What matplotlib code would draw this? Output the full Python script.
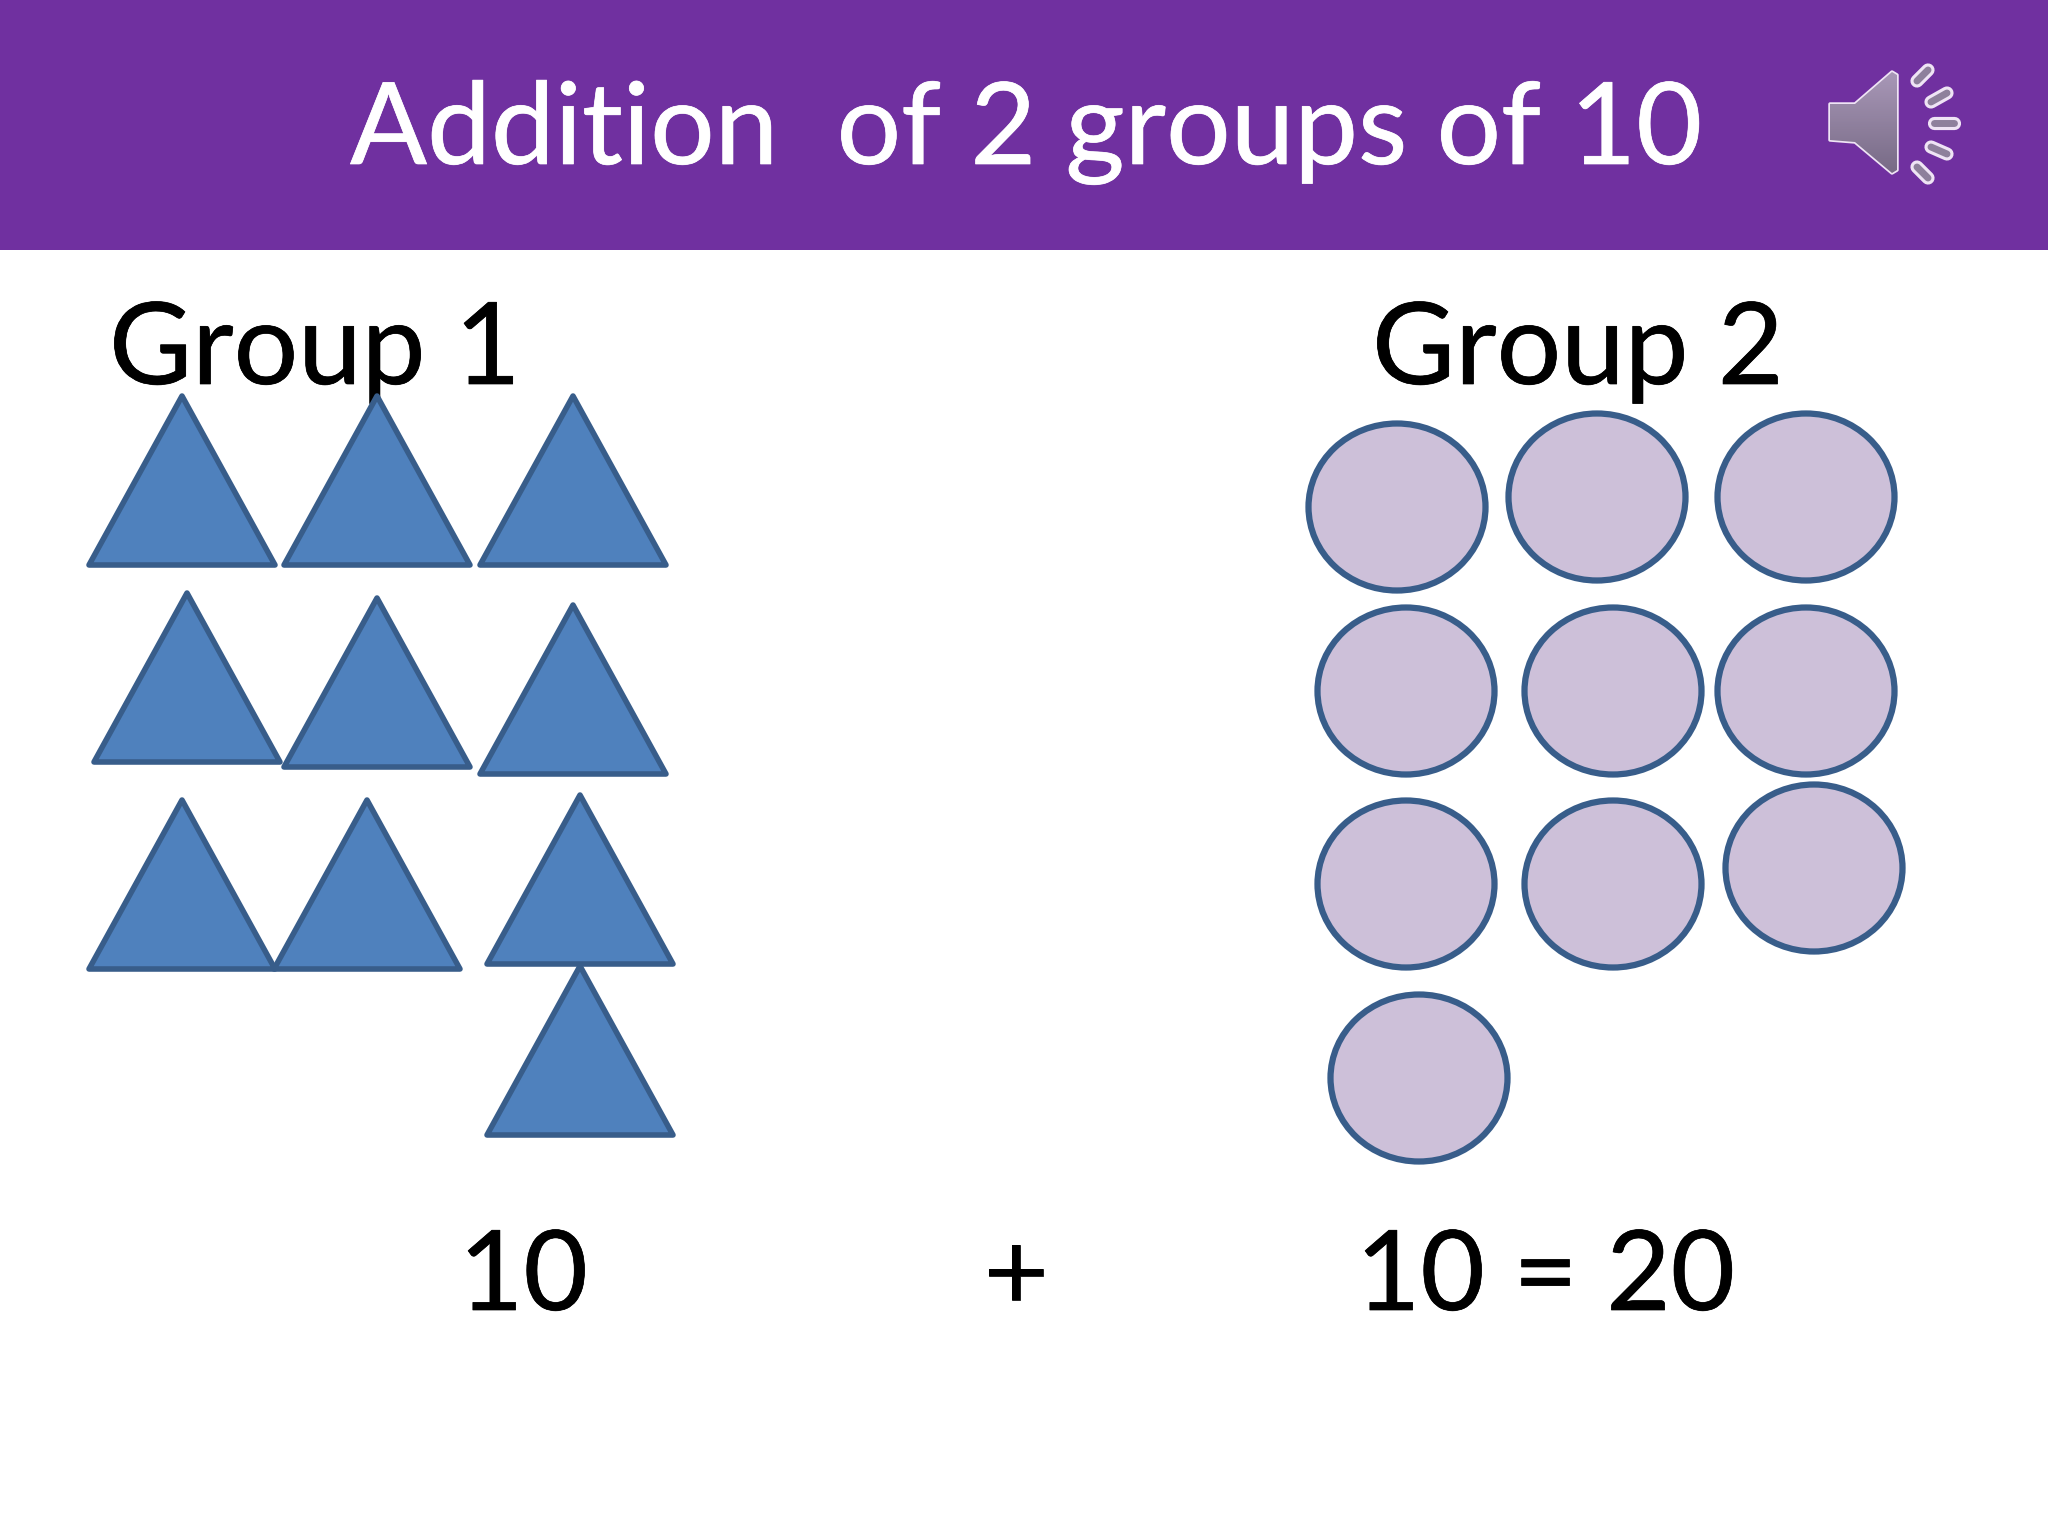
"""Slide: addition of two groups of ten, drawn in slide pixel coordinates."""
import matplotlib

matplotlib.use("Agg")
import matplotlib.patheffects as pe
import matplotlib.pyplot as plt
import numpy as np
from matplotlib.patches import Ellipse, Polygon

plt.rcParams["font.family"] = ["Lato", "DejaVu Sans"]

TITLE = "Addition  of 2 groups of 10"
GROUP_LABELS = ["Group 1", "Group 2"]
GROUP_LABEL_X = [109, 1372]
SUM_PARTS = ["10", "+", "10 = 20"]
SUM_X = [459, 1016, 1356]

TRIANGLE_X = [182, 377, 573, 187, 377, 573, 182, 367, 580, 580]
TRIANGLE_Y = [396, 396, 396, 593, 598, 605, 800, 800, 795, 966]
CIRCLE_X = [1397, 1597, 1806, 1406, 1613, 1806, 1406, 1613, 1814, 1419]
CIRCLE_Y = [507, 497, 497, 691, 691, 691, 884, 884, 868, 1078]

SPEAKER_X = [1830, 1855, 1892, 1897, 1897, 1892, 1855, 1830]
SPEAKER_Y = [104, 104, 72, 75, 170, 173, 142, 140]
RAY_X0 = [1917, 1931, 1934, 1931, 1917]
RAY_Y0 = [81, 102, 123, 147, 167]
RAY_X1 = [1928, 1947, 1954, 1947, 1928]
RAY_Y1 = [70, 93, 123, 154, 178]

PURPLE = "#7030A0"
TRI_FILL = "#4F81BD"
TRI_EDGE = "#385D8A"
CIRCLE_FILL = "#CDC0D9"
TRI_W = 186
TRI_H = 169
CIRCLE_W = 177
CIRCLE_H = 167

fig = plt.figure(figsize=(20.48, 15.36), dpi=100)
ax = fig.add_axes([0, 0, 1, 1])
ax.set_xlim(0, 2048)
ax.set_ylim(1536, 0)
ax.axis("off")

ax.fill_between([0, 2048], 0, 250, color=PURPLE, lw=0)
# Lato is a touch lighter than the slide font, so thicken the strokes slightly
ax.text(350, 164, TITLE, color="white", fontsize=82, va="baseline",
        path_effects=[pe.withStroke(linewidth=0.5, foreground="white")])

black_stroke = [pe.withStroke(linewidth=0.5, foreground="black")]
for label, x in zip(GROUP_LABELS, GROUP_LABEL_X):
    ax.text(x, 384, label, color="black", fontsize=82, va="baseline", zorder=0.5,
            path_effects=black_stroke)
for part, x in zip(SUM_PARTS, SUM_X):
    ha = "center" if part == "+" else "left"
    ax.text(x, 1310, part, color="black", fontsize=80, va="baseline", ha=ha,
            path_effects=black_stroke)

for x, y in zip(TRIANGLE_X, TRIANGLE_Y):
    pts = [(x, y), (x + TRI_W / 2, y + TRI_H), (x - TRI_W / 2, y + TRI_H)]
    ax.add_patch(Polygon(pts, closed=True, fc=TRI_FILL, ec=TRI_EDGE, lw=4, joinstyle="round"))

for x, y in zip(CIRCLE_X, CIRCLE_Y):
    ax.add_patch(Ellipse((x, y), CIRCLE_W, CIRCLE_H, fc=CIRCLE_FILL, ec=TRI_EDGE, lw=4.5))

# speaker icon, gradient clipped to the cone outline
cone = Polygon(list(zip(SPEAKER_X, SPEAKER_Y)), closed=True, fc="none", ec="#EFE4F5", lw=2.5, joinstyle="round")
ax.add_patch(cone)
grad = np.linspace(0, 1, 64).reshape(-1, 1)
img = ax.imshow(grad, extent=(1828, 1899, 175, 70), cmap=matplotlib.colors.LinearSegmentedColormap.from_list(
    "cone", ["#A998B8", "#776A85"]), aspect="auto", zorder=1)
img.set_clip_path(cone)
ax.set_xlim(0, 2048)
ax.set_ylim(1536, 0)
for x0, y0, x1, y1 in zip(RAY_X0, RAY_Y0, RAY_X1, RAY_Y1):
    ax.plot([x0, x1], [y0, y1], color="#EFE4F5", lw=9.5, solid_capstyle="round")
    ax.plot([x0, x1], [y0, y1], color="#8E809C", lw=5, solid_capstyle="round")

fig.savefig("out.png", dpi=100, facecolor="white")
plt.close(fig)
